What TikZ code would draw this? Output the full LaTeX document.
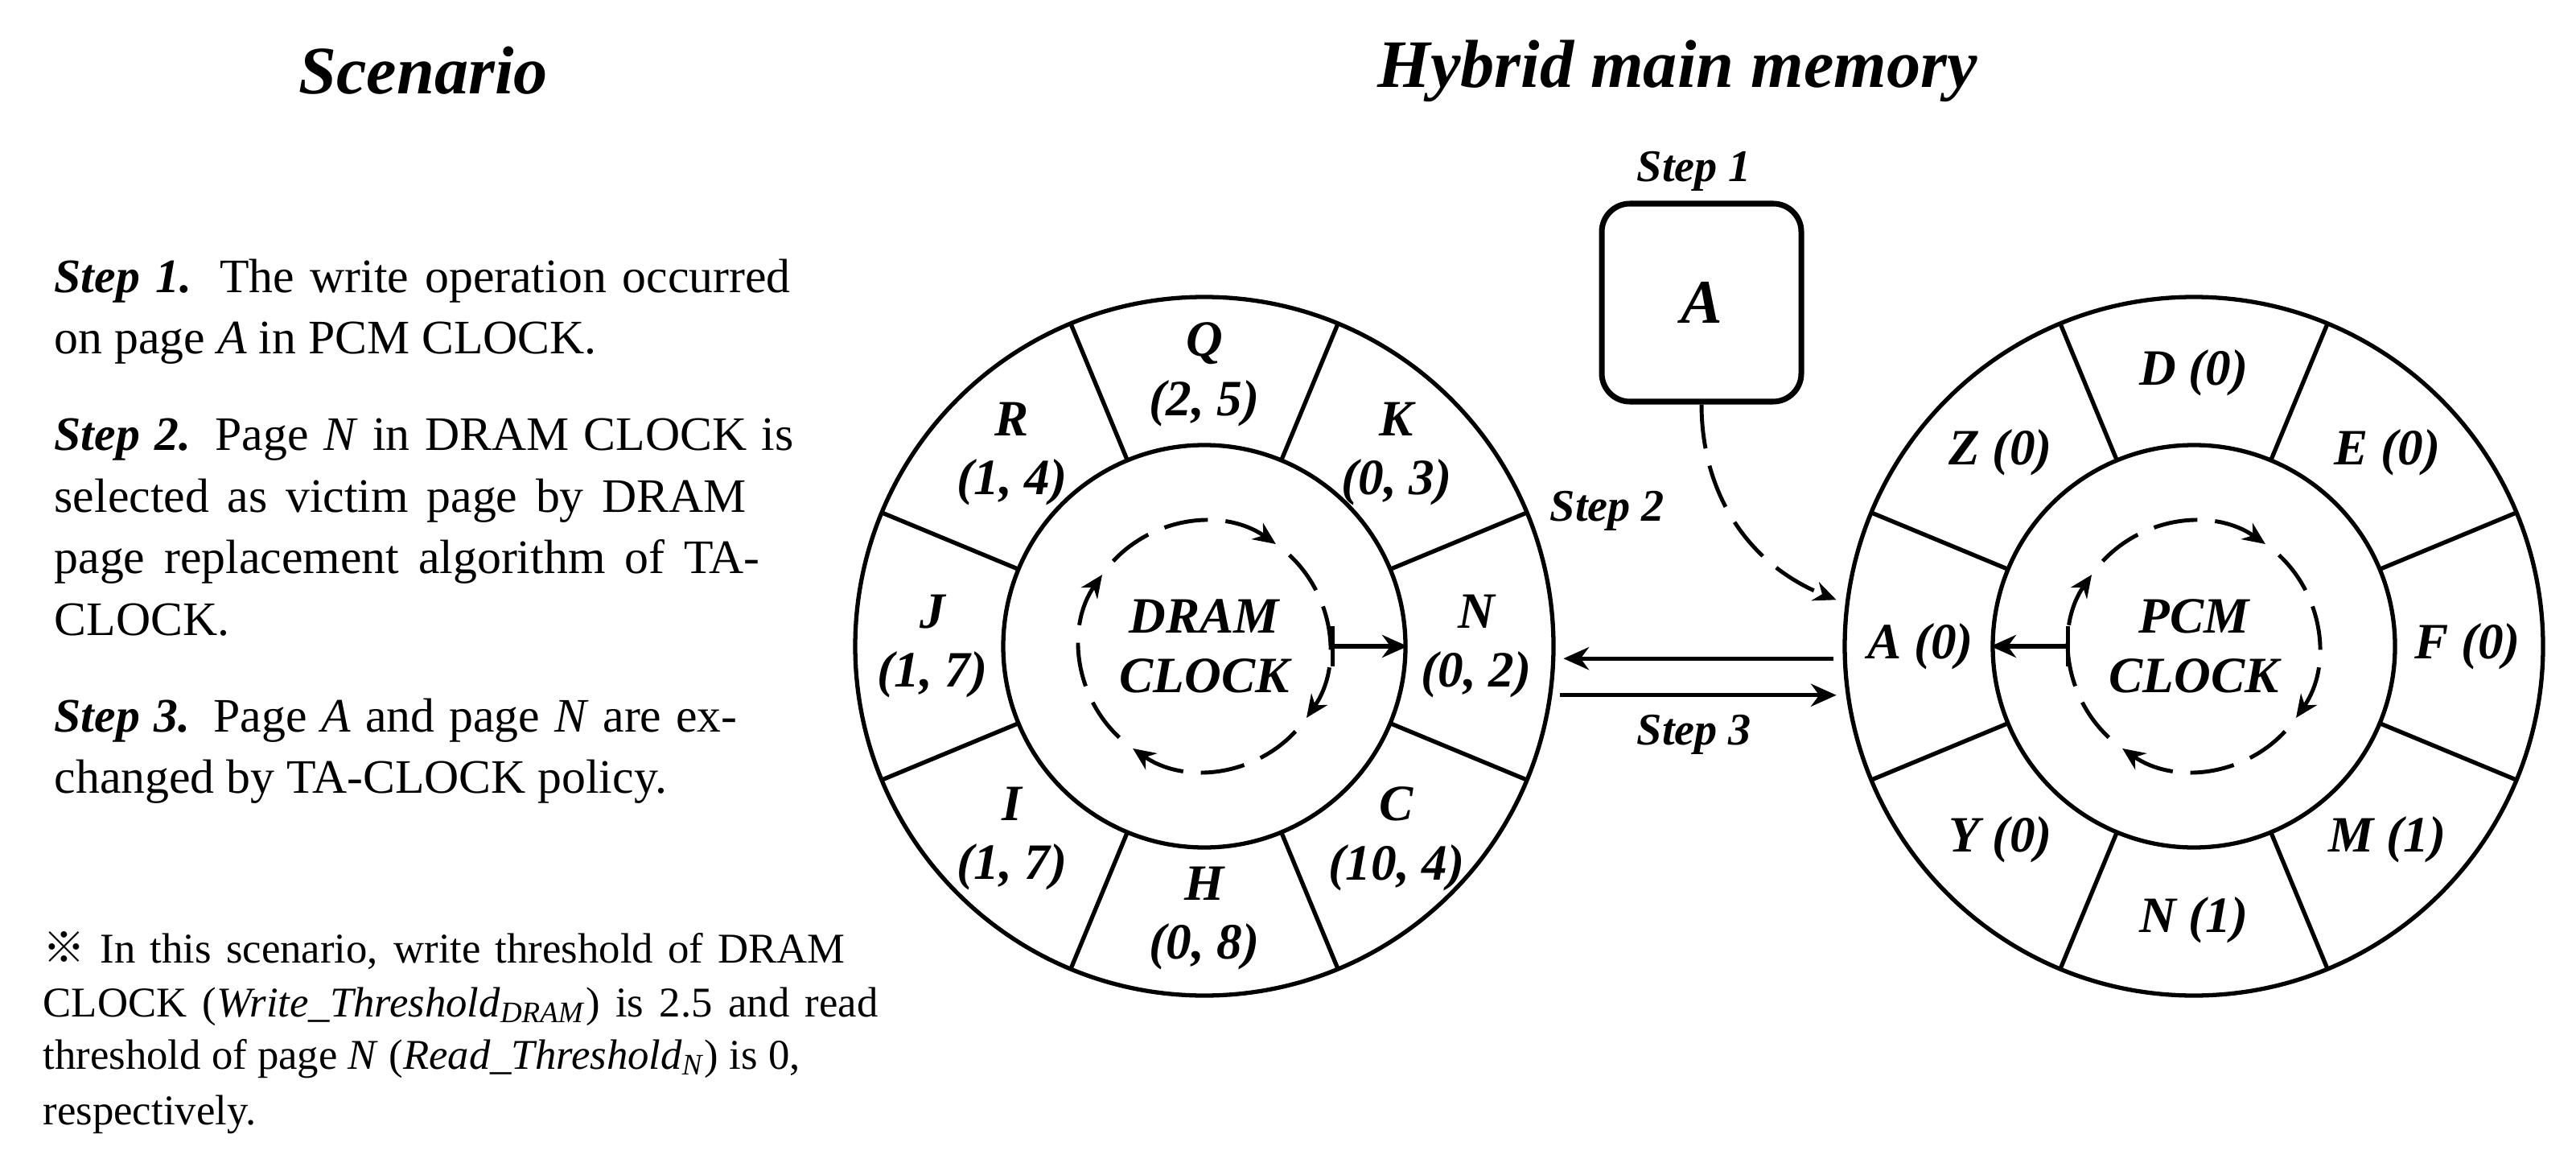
\documentclass[tikz,border=0pt]{standalone}
\usepackage{fontspec}
\setmainfont{Liberation Serif}
\newfontfamily\cjk{Noto Sans CJK SC}
\usetikzlibrary{arrows.meta,calc}
\begin{document}
\begin{tikzpicture}[
  ring/.style={circle,draw,line width=1.5pt,inner sep=0pt},
  lbl/.style={font=\fontsize{18}{21}\selectfont\bfseries\itshape,align=center,inner sep=0pt},
  steplbl/.style={font=\fontsize{16}{18}\selectfont\bfseries\itshape,inner sep=0pt},
  para/.style={font=\fontsize{17}{20}\selectfont,anchor=base west,inner sep=0pt},
  note/.style={font=\fontsize{15}{18}\selectfont,anchor=base west,inner sep=0pt},
  conn/.style={line width=1.5pt,-{Stealth[length=9pt,width=8pt]}},
  dasharr/.style={line width=1.4pt,dash pattern=on 0.55cm off 0.22cm,-{Stealth[length=8pt,width=7pt]}},
  seg/.style={line width=1.5pt}
]
\useasboundingbox (0,0) rectangle (32.02,-14.50);
% titles
\node[font=\fontsize{24}{28}\selectfont\bfseries\itshape] (t1) at (5.26,-0.88) {Scenario};
\node[font=\fontsize{24}{28}\selectfont\bfseries\itshape] (t2) at (20.85,-0.88) {Hybrid main memory};
% scenario text
\node[para] (s1a) at (0.67,-3.64) {\makebox[9.15cm][s]{\textbf{\textit{Step 1.}} The write operation occurred}};
\node[para] (s1b) at (0.67,-4.40) {on page \textit{A} in PCM CLOCK.};
\node[para] (s2a) at (0.67,-5.60) {\makebox[9.19cm][s]{\textbf{\textit{Step 2.}} Page \textit{N} in DRAM CLOCK is}};
\node[para] (s2b) at (0.67,-6.36) {\makebox[8.6cm][s]{selected as victim page by DRAM}};
\node[para] (s2c) at (0.67,-7.12) {\makebox[8.77cm][s]{page replacement algorithm of TA-}};
\node[para] (s2d) at (0.67,-7.89) {CLOCK.};
\node[para] (s3a) at (0.67,-9.09) {\makebox[8.49cm][s]{\textbf{\textit{Step 3.}} Page \textit{A} and page \textit{N} are ex-}};
\node[para] (s3b) at (0.67,-9.85) {changed by TA-CLOCK policy.};
\node[note] (n1) at (0.53,-11.96) {\makebox[9.97cm][s]{{\cjk ※} In this scenario, write threshold of DRAM}};
\node[note] (n2) at (0.53,-12.63) {\makebox[10.38cm][s]{CLOCK (\textit{Write\_Threshold}\textsubscript{\textit{DRAM}}) is 2.5 and read}};
\node[note] (n3) at (0.53,-13.28) {threshold of page \textit{N} (\textit{Read\_Threshold}\textsubscript{\textit{N}}) is 0,};
\node[note] (n4) at (0.53,-13.97) {respectively.};
% DRAM clock
\coordinate (D) at (14.97,-8.03);
\node[ring,minimum size=8.68cm] (Dout) at (D) {};
\node[ring,minimum size=5.0cm] (Din) at (D) {};
\foreach \a in {22.5,67.5,...,337.5}
  \draw[seg] ([shift={(\a:2.5)}]D) -- ([shift={(\a:4.34)}]D);
\foreach \a/\t in {90/{Q\\(2, 5)},45/{K\\(0, 3)},0/{N\\(0, 2)},-45/{C\\(10, 4)},-90/{H\\(0, 8)},-135/{I\\(1, 7)},180/{J\\(1, 7)},135/{R\\(1, 4)}}
  \node[lbl] at ([shift={(\a:3.38)}]D) {\t};
\node[lbl] (dtxt) at (D) {DRAM\\CLOCK};
\foreach \t in {55,-35,-125,145}
  \draw[dasharr] ([shift={(\t+82:1.55)}]D) arc[start angle=\t+82, end angle=\t, radius=1.55];
\coordinate (Dt) at (16.54,-8.03);
\draw[line width=1.5pt,{Bar[width=14pt]}-{Stealth[length=9pt,width=8pt]}] (Dt) -- (Din.east);
% PCM clock
\coordinate (P) at (27.27,-8.03);
\node[ring,minimum size=8.68cm] (Pout) at (P) {};
\node[ring,minimum size=5.0cm] (Pin) at (P) {};
\foreach \a in {22.5,67.5,...,337.5}
  \draw[seg] ([shift={(\a:2.5)}]P) -- ([shift={(\a:4.34)}]P);
\foreach \a/\t in {90/{D (0)},45/{E (0)},0/{F (0)},-45/{M (1)},-90/{N (1)},-135/{Y (0)},180/{A (0)},135/{Z (0)}}
  \node[lbl] at ([shift={(\a:3.40)}]P) {\t};
\node[lbl] (ptxt) at (P) {PCM\\CLOCK};
\foreach \t in {55,-35,-125,145}
  \draw[dasharr] ([shift={(\t+82:1.55)}]P) arc[start angle=\t+82, end angle=\t, radius=1.55];
\coordinate (Pt) at (25.73,-8.03);
\draw[line width=1.5pt,{Bar[width=14pt]}-{Stealth[length=9pt,width=8pt]}] (Pt) -- (Pin.west);
% exchange arrows
\draw[conn,shorten >=0.1cm,shorten <=0.12cm] (Pout.182.1) -- (Dout.-2.1);
\draw[conn,shorten <=0.1cm,shorten >=0.12cm] (Dout.-8.5) -- (Pout.188.5);
% step 1 box
\node[draw,rounded corners=0.35cm,line width=2pt,minimum width=2.48cm,minimum height=2.46cm,
  font=\fontsize{22}{24}\selectfont\bfseries\itshape] (box) at (21.15,-3.76) {A};
\draw[dasharr,shorten >=0.12cm] (box.south) .. controls (21.15,-6.1) and (21.7,-7.0) .. (Pout.173.4);
% step labels
\node[steplbl] (st1) at (21.06,-2.13) {Step 1};
\node[steplbl] (st2) at (19.98,-6.35) {Step 2};
\node[steplbl] (st3) at (21.06,-9.13) {Step 3};
\end{tikzpicture}
\end{document}
